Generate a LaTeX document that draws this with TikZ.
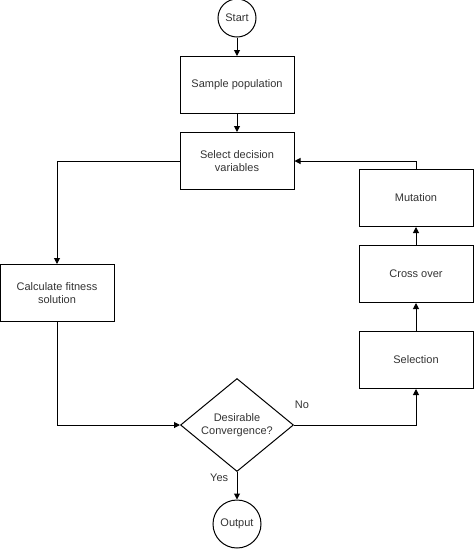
\documentclass[tikz,border=0pt]{standalone}
\usepackage{fontspec}
\setmainfont{Liberation Sans}
\usetikzlibrary{shapes.geometric,arrows.meta}
\tikzset{
  stepbox/.style={draw, rectangle, minimum width=114pt, minimum height=57pt, align=center, inner sep=2pt},
  terminal/.style={draw, circle, inner sep=0pt},
  decision/.style={draw, diamond, minimum width=113pt, minimum height=93pt, inner sep=0pt},
  flow/.style={-{Triangle[length=6pt,width=6pt]}}
}
\begin{document}
\begin{tikzpicture}[x=1pt, y=1pt, line width=1pt, font=\fontsize{11}{13}\selectfont, text=black!80]
        \useasboundingbox (0,0) rectangle (474,-550);
        \node (start) [terminal, minimum size=38pt] at (237,-18) {Start};
        \node (sample) [stepbox, below of=start, node distance=67pt] {Sample population};
        \node (select) [stepbox, below of=sample, node distance=76pt] {Select decision\\variables};
        \node (fitness) [stepbox] at (57,-293) {Calculate fitness\\solution};
        \node (conv) [decision, label={[align=center]center:Desirable\\Convergence?}] at (237,-425) {};
        \node (output) [terminal, minimum size=48pt, below of=conv, node distance=99pt] {Output};
        \node (selection) [stepbox] at (416,-360) {Selection};
        \node (cross) [stepbox, above of=selection, node distance=86pt] {Cross over};
        \node (mutation) [stepbox, above of=cross, node distance=76pt] {Mutation};
        
        \draw[flow] (start) -- (sample);
        \draw[flow] (sample) -- (select);
        \draw[flow] (select.west) -| (fitness.north);
        \draw[flow] (fitness.south) |- (conv.west);
        \draw[flow] (conv.east) -| node[pos=0, above right, xshift=-3pt, yshift=13pt] {No} (selection.south);
        \draw[flow] (selection) -- (cross);
        \draw[flow] (cross) -- (mutation);
        \draw[flow] (mutation.north) |- (select.east);
        \draw[flow] (conv.south) -- node[pos=0.2, left, xshift=-5pt] {Yes} (output);
    \end{tikzpicture}
\end{document}
